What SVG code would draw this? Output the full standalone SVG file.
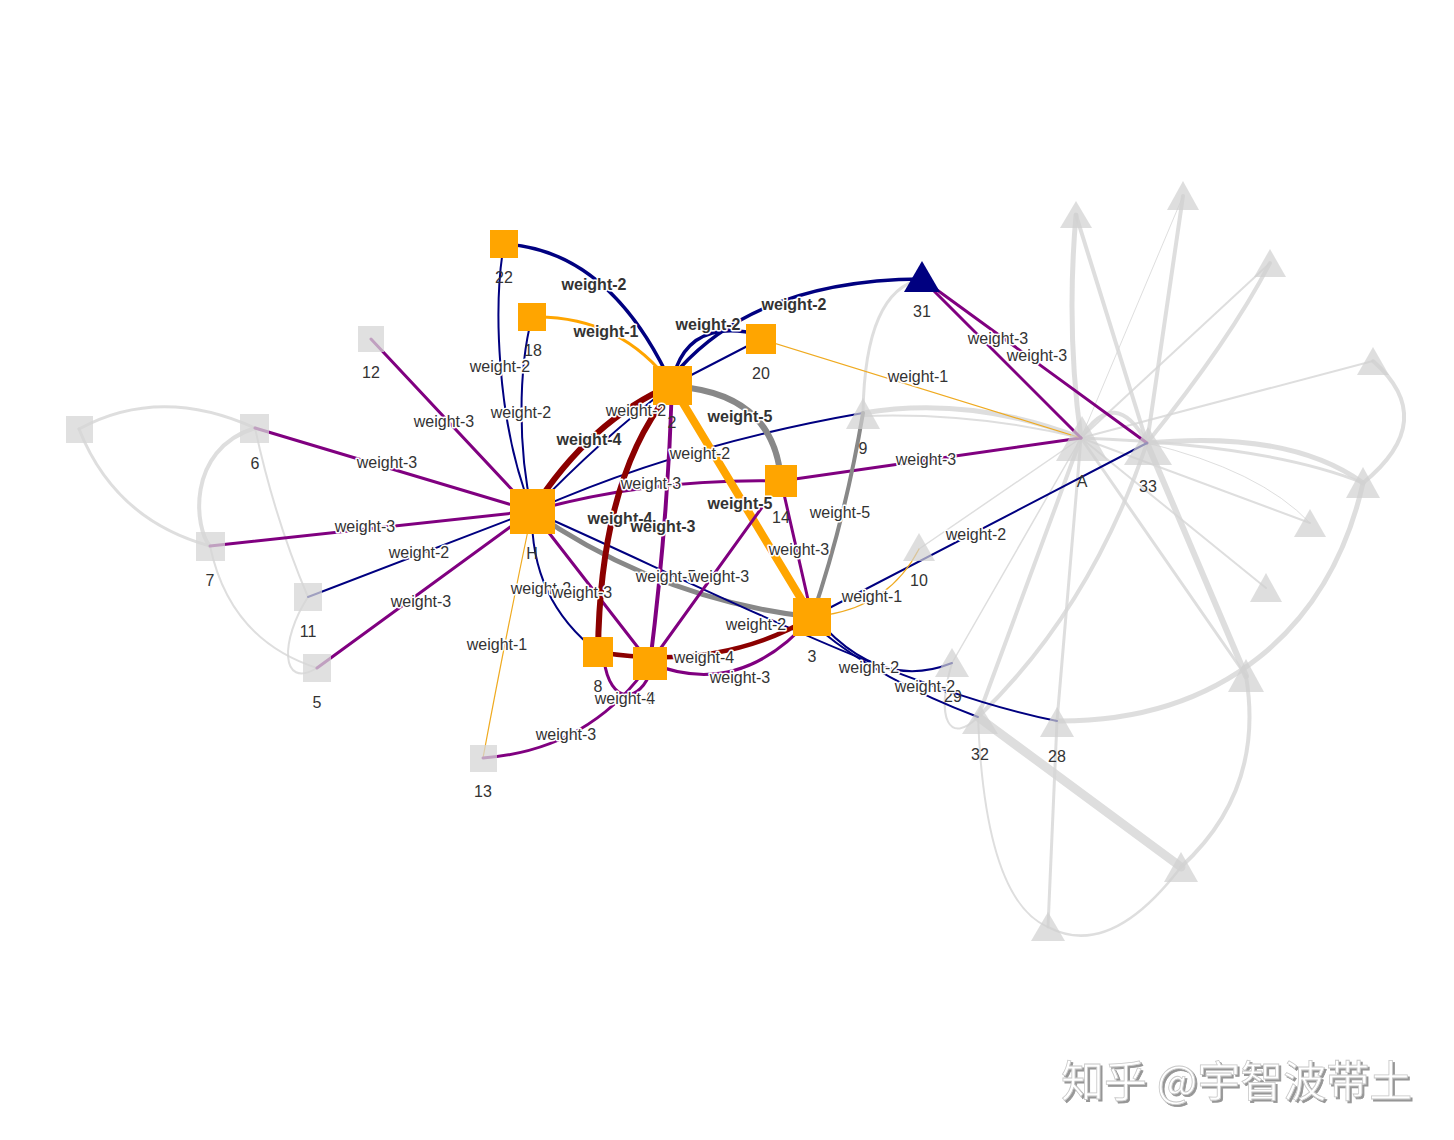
<svg xmlns="http://www.w3.org/2000/svg" width="1454" height="1140" viewBox="0 0 1454 1140">
<defs>
<style>
.g{fill:none;stroke:#d6d6d6;stroke-opacity:0.8;stroke-linecap:round}
.e{fill:none;stroke-linecap:round}
.nv{stroke:#000080}
.pu{stroke:#800080}
.rd{stroke:#8b0000}
.or{stroke:#ffa500}
.ol{stroke:#efaa20}
.gy{stroke:#888888}
.on{fill:#ffa500}
.gn{fill:#d6d6d6;fill-opacity:0.75}
.tn{fill:#d0d0d0;fill-opacity:0.7}
text{font-family:"Liberation Sans",Arial,sans-serif;font-size:16px;text-anchor:middle}
.l{fill:#333;stroke:#fff;stroke-width:3;paint-order:stroke;stroke-linejoin:round}
.b{font-weight:bold}
.nl{fill:#333}
</style>
<filter id="sh" x="-10%" y="-30%" width="120%" height="160%">
<feDropShadow dx="2" dy="2" stdDeviation="0.6" flood-color="#8a8a8a" flood-opacity="0.9"/>
</filter>
</defs>
<rect width="1454" height="1140" fill="#fff"/>

<g id="connectors">
<g id="faded-edges">
<path class="g" d="M79,429 Q160,385 255,428" stroke-width="3"/>
<path class="g" d="M79,429 Q115,520 210,546" stroke-width="3"/>
<path class="g" d="M255,428 C185,450 195,530 210,546" stroke-width="4"/>
<path class="g" d="M255,428 Q275,520 308,597" stroke-width="2"/>
<path class="g" d="M308,597 C280,640 280,690 317,668" stroke-width="2"/>
<path class="g" d="M210,546 Q230,640 317,668" stroke-width="2"/>
<path class="g" d="M1081,438 Q1066,330 1076,215" stroke-width="5"/>
<path class="g" d="M1081,438 L1183,196" stroke-width="1"/>
<path class="g" d="M1081,438 L1270,263" stroke-width="2"/>
<path class="g" d="M1081,438 L1373,361" stroke-width="2"/>
<path class="g" d="M1147,443 L1076,215" stroke-width="4"/>
<path class="g" d="M1147,443 L1183,196" stroke-width="4"/>
<path class="g" d="M1147,443 Q1230,340 1270,263" stroke-width="4"/>
<path class="g" d="M1147,443 Q1290,430 1363,483" stroke-width="5"/>
<path class="g" d="M1081,438 Q1270,445 1363,483" stroke-width="3"/>
<path class="g" d="M1373,361 Q1440,420 1363,483" stroke-width="4"/>
<path class="g" d="M1147,443 Q1260,470 1310,523" stroke-width="1"/>
<path class="g" d="M1081,438 L1310,523" stroke-width="2"/>
<path class="g" d="M1081,438 L1266,588" stroke-width="2"/>
<path class="g" d="M1081,438 L1246,676" stroke-width="3"/>
<path class="g" d="M1147,443 L1246,676" stroke-width="6"/>
<path class="g" d="M1363,483 C1330,630 1220,722 1057,721" stroke-width="5"/>
<path class="g" d="M978,717 L1181,867" stroke-width="9"/>
<path class="g" d="M978,717 L1081,438" stroke-width="4"/>
<path class="g" d="M978,717 Q1090,610 1147,443" stroke-width="4"/>
<path class="g" d="M952,663 L1081,438" stroke-width="1.5"/>
<path class="g" d="M1057,721 L1081,438" stroke-width="3"/>
<path class="g" d="M1057,721 L1048,927" stroke-width="3"/>
<path class="g" d="M978,717 Q985,900 1048,927" stroke-width="2"/>
<path class="g" d="M1048,927 Q1110,960 1181,867" stroke-width="2.5"/>
<path class="g" d="M1246,676 Q1265,790 1181,867" stroke-width="4"/>
<path class="g" d="M952,663 C935,720 950,745 978,717" stroke-width="2"/>
<path class="g" d="M919,549 L1081,438" stroke-width="1.5"/>
<path class="g" d="M863,413 Q970,395 1081,438" stroke-width="5"/>
<path class="g" d="M863,416 Q975,412 1081,438" stroke-width="2"/>
<path class="g" d="M1081,438 Q1115,385 1147,443" stroke-width="4"/>
<path class="g" d="M863,413 Q865,290 922,279" stroke-width="3"/>
</g>
<g id="highlight-edges">
<path class="e pu" d="M371,339 L532,511" stroke-width="3"/>
<path class="e pu" d="M255,428 L532,511" stroke-width="3"/>
<path class="e pu" d="M210,546 L532,511" stroke-width="3"/>
<path class="e nv" d="M308,597 L532,511" stroke-width="2"/>
<path class="e pu" d="M317,668 L532,511" stroke-width="3"/>
<path class="e nv" d="M504,244 C494,300 495,420 532,511" stroke-width="2"/>
<path class="e nv" d="M532,317 C518,370 518,450 532,511" stroke-width="2"/>
<path class="e rd" d="M532,511 Q590,420 672,385" stroke-width="6"/>
<path class="e nv" d="M532,511 Q600,440 672,385" stroke-width="2"/>
<path class="e pu" d="M532,511 Q650,478 781,481" stroke-width="3"/>
<path class="e pu" d="M781,481 L1081,438" stroke-width="3"/>
<path class="e nv" d="M532,511 Q680,445 863,413" stroke-width="2"/>
<path class="e gy" d="M532,511 Q660,600 812,617" stroke-width="5"/>
<path class="e nv" d="M532,511 C700,585 900,690 1057,721" stroke-width="2"/>
<path class="e nv" d="M532,511 Q530,600 598,652" stroke-width="2"/>
<path class="e pu" d="M532,511 L650,663" stroke-width="3"/>
<path class="e ol" d="M532,511 Q505,640 483,758" stroke-width="1.2"/>
<path class="e nv" d="M504,244 Q610,250 672,385" stroke-width="3.5"/>
<path class="e or" d="M532,317 Q620,315 672,385" stroke-width="3"/>
<path class="e nv" d="M676,368 Q695,318 761,335" stroke-width="3.5"/>
<path class="e nv" d="M672,385 L761,339" stroke-width="2"/>
<path class="e nv" d="M680,368 Q760,280 922,279" stroke-width="3.5"/>
<path class="e gy" d="M690,388 Q775,400 781,481" stroke-width="6"/>
<path class="e or" d="M672,385 L812,617" stroke-width="8"/>
<path class="e rd" d="M668,395 Q600,480 598,652" stroke-width="6"/>
<path class="e pu" d="M672,385 Q668,520 650,663" stroke-width="4"/>
<path class="e ol" d="M761,339 L1081,438" stroke-width="1.2"/>
<path class="e pu" d="M922,279 L1081,438" stroke-width="3"/>
<path class="e pu" d="M922,279 L1147,443" stroke-width="3"/>
<path class="e pu" d="M781,481 L650,663" stroke-width="3"/>
<path class="e pu" d="M781,481 L812,617" stroke-width="3"/>
<path class="e gy" d="M812,617 Q845,520 863,413" stroke-width="4"/>
<path class="e nv" d="M812,617 L1147,443" stroke-width="2"/>
<path class="e ol" d="M826,615 Q890,605 919,549" stroke-width="1.2"/>
<path class="e nv" d="M825,628 Q885,690 952,663" stroke-width="2"/>
<path class="e nv" d="M820,630 Q880,680 978,717" stroke-width="2"/>
<path class="e rd" d="M598,652 Q720,672 812,617" stroke-width="4.5"/>
<path class="e pu" d="M650,663 Q740,700 812,617" stroke-width="3"/>
<path class="e pu" d="M604,660 C610,705 640,705 652,668" stroke-width="3"/>
<path class="e pu" d="M483,758 Q590,750 650,663" stroke-width="3"/>
</g>
</g>

<g id="nodes">
<g id="n-L"><rect class="gn" x="66" y="416" width="27" height="27"/></g>
<g id="n-12"><rect class="gn" x="358" y="326" width="26" height="26"/><text class="nl" x="371" y="378">12</text></g>
<g id="n-6"><rect class="gn" x="240" y="414" width="29" height="29"/><text class="nl" x="255" y="469">6</text></g>
<g id="n-7"><rect class="gn" x="196" y="532" width="29" height="29"/><text class="nl" x="210" y="586">7</text></g>
<g id="n-11"><rect class="gn" x="294" y="583" width="28" height="28"/><text class="nl" x="308" y="637">11</text></g>
<g id="n-5"><rect class="gn" x="303" y="654" width="28" height="28"/><text class="nl" x="317" y="708">5</text></g>
<g id="n-13"><rect class="gn" x="470" y="745" width="27" height="27"/><text class="nl" x="483" y="797">13</text></g>
<g id="n-H"><rect class="on" x="510" y="489" width="45" height="45"/><text class="nl" x="532" y="559">H</text></g>
<g id="n-2"><rect class="on" x="653" y="366" width="39" height="39"/><text class="nl" x="672" y="428">2</text></g>
<g id="n-22"><rect class="on" x="490" y="230" width="28" height="28"/><text class="nl" x="504" y="283">22</text></g>
<g id="n-18"><rect class="on" x="518" y="303" width="28" height="28"/><text class="nl" x="533" y="356">18</text></g>
<g id="n-20"><rect class="on" x="746" y="324" width="30" height="30"/><text class="nl" x="761" y="379">20</text></g>
<g id="n-14"><rect class="on" x="765" y="465" width="32" height="32"/><text class="nl" x="781" y="523">14</text></g>
<g id="n-3"><rect class="on" x="793" y="598" width="38" height="38"/><text class="nl" x="812" y="662">3</text></g>
<g id="n-8"><rect class="on" x="583" y="637" width="30" height="30"/><text class="nl" x="598" y="692">8</text></g>
<g id="n-4"><rect class="on" x="633" y="647" width="34" height="33"/><text class="nl" x="651" y="704">8</text></g>
<g id="n-31"><polygon points="922,261 904,292 940,292" fill="#000080"/><text class="nl" x="922" y="317">31</text></g>
<g id="n-9"><polygon class="tn" points="863,398 846,429 880,429"/><text class="nl" x="863" y="454">9</text></g>
<g id="n-A"><polygon class="tn" points="1082,416 1056,461 1108,461"/><text class="nl" x="1082" y="487">A</text></g>
<g id="n-33"><polygon class="tn" points="1148,427 1124,465 1172,465"/><text class="nl" x="1148" y="492">33</text></g>
<g id="n-10"><polygon class="tn" points="919,533 903,561 935,561"/><text class="nl" x="919" y="586">10</text></g>
<g id="n-29"><polygon class="tn" points="952,648 935,677 969,677"/><text class="nl" x="953" y="702">29</text></g>
<g id="n-32"><polygon class="tn" points="980,705 962,734 998,734"/><text class="nl" x="980" y="760">32</text></g>
<g id="n-28"><polygon class="tn" points="1057,707 1040,737 1074,737"/><text class="nl" x="1057" y="762">28</text></g>
<g id="n-t1"><polygon class="tn" points="1076,201 1060,228 1092,228"/></g>
<g id="n-t2"><polygon class="tn" points="1183,181 1167,210 1199,210"/></g>
<g id="n-t3"><polygon class="tn" points="1270,249 1254,277 1286,277"/></g>
<g id="n-t4"><polygon class="tn" points="1373,347 1357,375 1389,375"/></g>
<g id="n-t5"><polygon class="tn" points="1363,467 1346,498 1380,498"/></g>
<g id="n-t6"><polygon class="tn" points="1310,509 1294,537 1326,537"/></g>
<g id="n-t7"><polygon class="tn" points="1266,573 1250,602 1282,602"/></g>
<g id="n-t8"><polygon class="tn" points="1246,659 1228,692 1264,692"/></g>
<g id="n-t9"><polygon class="tn" points="1181,852 1164,882 1198,882"/></g>
<g id="n-t10"><polygon class="tn" points="1048,912 1031,941 1065,941"/></g>
</g>

<g id="edge-labels">
<text class="l b" x="594" y="290">weight-2</text>
<text class="l b" x="606" y="337">weight-1</text>
<text class="l b" x="708" y="330">weight-2</text>
<text class="l b" x="794" y="310">weight-2</text>
<text class="l" x="998" y="344">weight-3</text>
<text class="l" x="1037" y="361">weight-3</text>
<text class="l" x="918" y="382">weight-1</text>
<text class="l" x="500" y="372">weight-2</text>
<text class="l" x="521" y="418">weight-2</text>
<text class="l" x="444" y="427">weight-3</text>
<text class="l" x="387" y="468">weight-3</text>
<text class="l" x="365" y="532">weight-3</text>
<text class="l" x="419" y="558">weight-2</text>
<text class="l" x="421" y="607">weight-3</text>
<text class="l" x="636" y="416">weight-2</text>
<text class="l b" x="589" y="445">weight-4</text>
<text class="l b" x="740" y="422">weight-5</text>
<text class="l" x="700" y="459">weight-2</text>
<text class="l" x="651" y="489">weight-3</text>
<text class="l" x="926" y="465">weight-3</text>
<text class="l b" x="740" y="509">weight-5</text>
<text class="l b" x="620" y="524">weight-4</text>
<text class="l b" x="663" y="532">weight-3</text>
<text class="l" x="840" y="518">weight-5</text>
<text class="l" x="799" y="555">weight-3</text>
<text class="l" x="976" y="540">weight-2</text>
<text class="l" x="666" y="582">weight-5</text>
<text class="l" x="719" y="582">weight-3</text>
<text class="l" x="541" y="594">weight-2</text>
<text class="l" x="582" y="598">weight-3</text>
<text class="l" x="872" y="602">weight-1</text>
<text class="l" x="497" y="650">weight-1</text>
<text class="l" x="756" y="630">weight-2</text>
<text class="l" x="704" y="663">weight-4</text>
<text class="l" x="740" y="683">weight-3</text>
<text class="l" x="869" y="673">weight-2</text>
<text class="l" x="925" y="692">weight-2</text>
<text class="l" x="625" y="704">weight-4</text>
<text class="l" x="566" y="740">weight-3</text>
</g>

<text x="1061" y="1097" style="font-family:'Noto Sans CJK SC','Liberation Sans',sans-serif;font-size:43px;text-anchor:start;fill:#fff;stroke:#c8c8c8;stroke-width:0.8" filter="url(#sh)">知乎 @宇智波带土</text>
</svg>
